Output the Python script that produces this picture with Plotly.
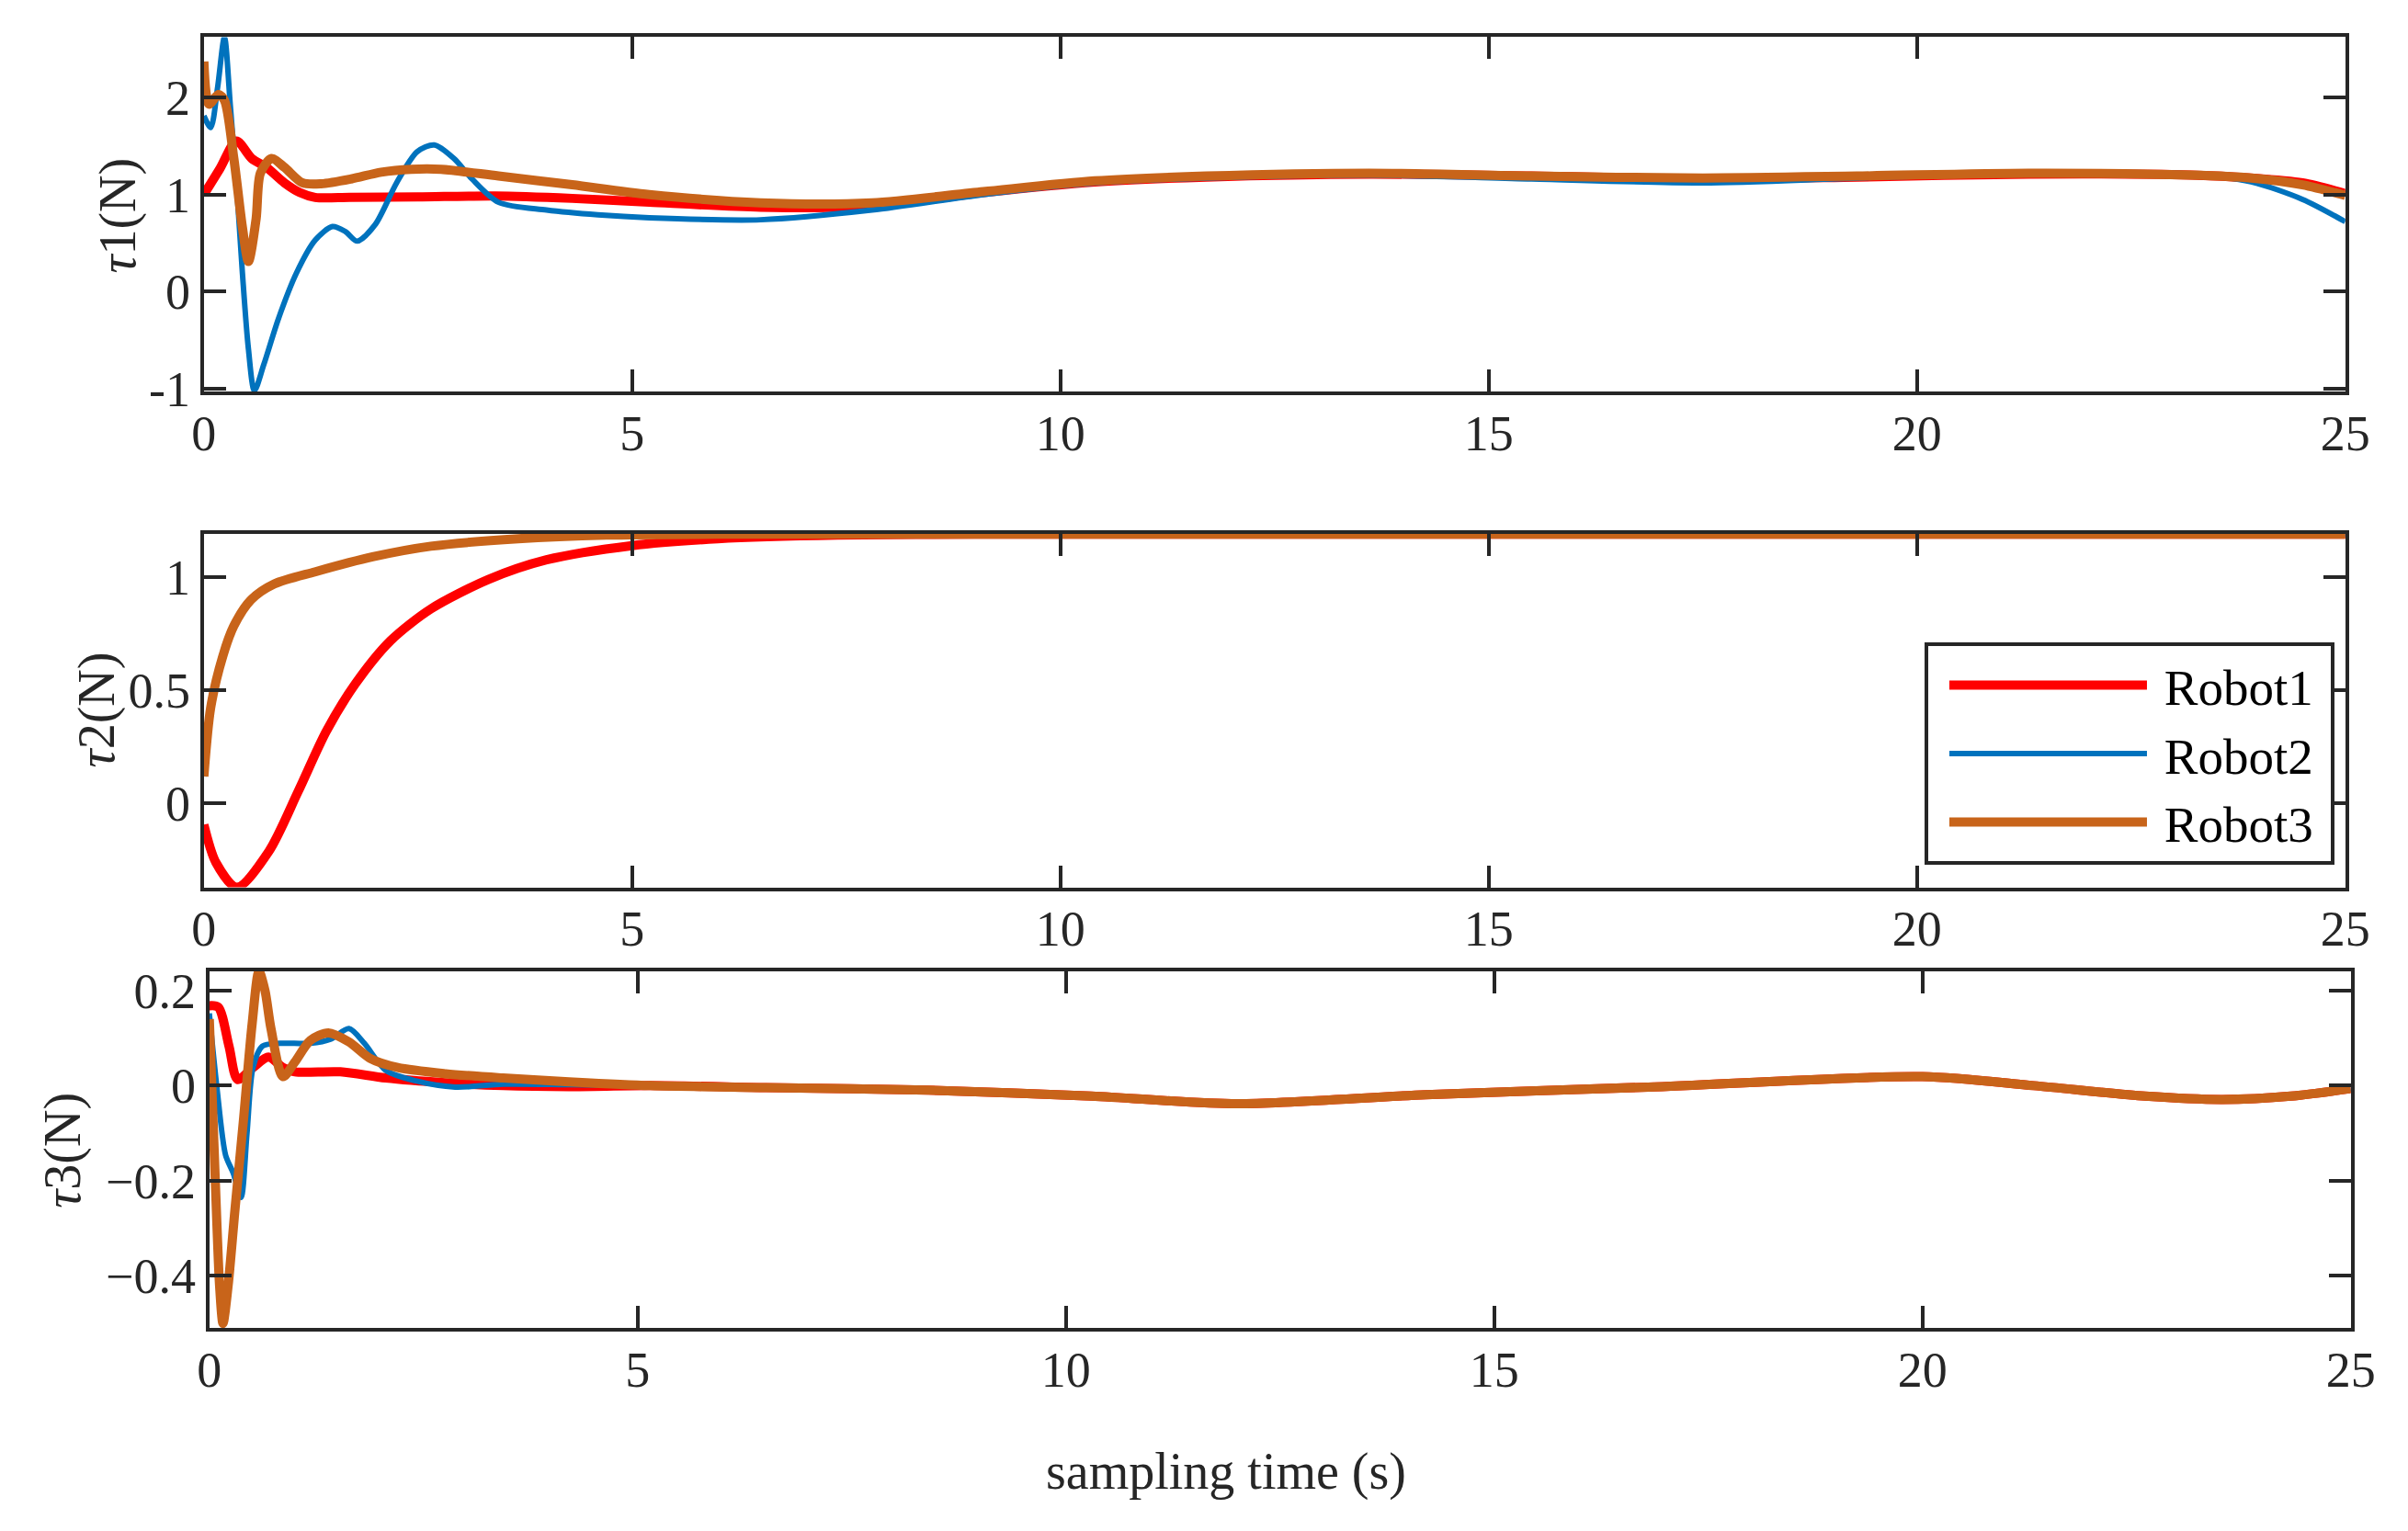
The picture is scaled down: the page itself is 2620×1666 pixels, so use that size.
import plotly.graph_objects as go

# ---------------- data ----------------
# Panel 1: tau1 (N)
t1_r = [0, 0.19, 0.38, 0.56, 0.73, 0.94, 1.12, 1.3, 1.7, 2.5, 3.4, 4.3, 5.2, 6.5, 7.8, 9.1, 10.4, 11.7, 13.6, 15.5, 17.5, 19.3, 21.3, 23.2, 23.9, 24.5, 25]
r1 = [1.0, 1.27, 1.55, 1.37, 1.28, 1.12, 1.02, 0.97, 0.97, 0.975, 0.985, 0.96, 0.92, 0.87, 0.88, 1.02, 1.13, 1.18, 1.21, 1.19, 1.16, 1.18, 1.21, 1.2, 1.17, 1.12, 1.01]

t1_b = [0, 0.08, 0.16, 0.24, 0.31, 0.38, 0.45, 0.52, 0.59, 0.7, 0.87, 1.08, 1.3, 1.5, 1.65, 1.79, 2.0, 2.25, 2.49, 2.69, 2.92, 3.13, 3.44, 4.0, 4.6, 5.2, 6.5, 7.8, 9.1, 10.4, 11.7, 13.6, 15.5, 17.5, 19.3, 21.3, 23.2, 23.9, 24.5, 25]
b1 = [1.81, 1.69, 2.1, 2.62, 1.9, 1.12, 0.19, -0.59, -1.02, -0.75, -0.28, 0.19, 0.53, 0.67, 0.62, 0.52, 0.69, 1.12, 1.44, 1.51, 1.37, 1.16, 0.92, 0.84, 0.79, 0.76, 0.74, 0.84, 1.0, 1.12, 1.17, 1.2, 1.16, 1.12, 1.17, 1.22, 1.21, 1.13, 0.95, 0.72]

t1_o = [0, 0.06, 0.17, 0.24, 0.35, 0.45, 0.52, 0.61, 0.66, 0.79, 0.94, 1.15, 1.37, 1.72, 2.07, 2.42, 2.77, 3.44, 4.3, 5.2, 6.5, 7.8, 9.1, 10.4, 11.7, 13.6, 15.5, 17.5, 19.3, 21.3, 23.2, 23.9, 24.5, 25]
o1 = [2.37, 1.93, 2.03, 1.97, 1.37, 0.66, 0.31, 0.75, 1.22, 1.37, 1.28, 1.12, 1.11, 1.16, 1.23, 1.26, 1.26, 1.19, 1.1, 1.0, 0.915, 0.915, 1.03, 1.14, 1.19, 1.22, 1.19, 1.17, 1.19, 1.22, 1.2, 1.17, 1.1, 0.99]

# Panel 2: tau2 (N)
t2_r = [0, 0.14, 0.385, 0.76, 1.1, 1.43, 1.77, 2.18, 2.65, 3.32, 4.0, 5.0, 6.0, 7.4, 9, 12, 16, 20, 25]
r2 = [-0.093, -0.26, -0.37, -0.21, 0.053, 0.32, 0.53, 0.72, 0.86, 0.99, 1.077, 1.14, 1.17, 1.186, 1.19, 1.19, 1.19, 1.19, 1.19]

t2_b = [0, 0.08, 0.22, 0.35, 0.55, 0.82, 1.3, 1.97, 2.65, 3.67, 4.7, 6, 9, 12, 16, 20, 25]
b2 = [0.12, 0.425, 0.65, 0.785, 0.9, 0.97, 1.024, 1.09, 1.137, 1.17, 1.186, 1.19, 1.19, 1.19, 1.19, 1.19, 1.19]

t2_o = [0, 0.08, 0.22, 0.35, 0.55, 0.82, 1.3, 1.97, 2.65, 3.67, 4.7, 6, 9, 12, 16, 20, 25]
o2 = [0.12, 0.425, 0.65, 0.785, 0.9, 0.97, 1.024, 1.09, 1.137, 1.17, 1.186, 1.19, 1.19, 1.19, 1.19, 1.19, 1.19]

# Panel 3: tau3 (N)
t3_r = [0, 0.105, 0.23, 0.33, 0.51, 0.69, 0.86, 1.0, 1.53, 2.06, 2.76, 3.43, 4.2, 5.15, 6.5, 8.4, 10.3, 12.0, 14.2, 16.8, 20.0, 21.3, 22.6, 23.5, 24.3, 25]
r3 = [0.168, 0.165, 0.083, 0.013, 0.038, 0.06, 0.038, 0.029, 0.029, 0.016, 0.006, 0.0, -0.002, 0.0, -0.004, -0.0095, -0.022, -0.038, -0.019, -0.003, 0.019, 0.0, -0.022, -0.029, -0.022, -0.006]

t3_b = [0, 0.09, 0.19, 0.28, 0.37, 0.44, 0.51, 0.62, 0.83, 1.18, 1.42, 1.63, 1.81, 2.06, 2.41, 2.87, 3.43, 4.2, 5.15, 6.5, 8.4, 10.3, 12.0, 14.2, 16.8, 20.0, 21.3, 22.6, 23.5, 24.3, 25]
b3 = [0.152, -0.006, -0.146, -0.184, -0.235, -0.1, 0.038, 0.083, 0.089, 0.089, 0.098, 0.12, 0.089, 0.032, 0.01, -0.003, 0.003, 0.002, 0.0, -0.004, -0.0095, -0.022, -0.038, -0.019, -0.003, 0.019, 0.0, -0.022, -0.029, -0.022, -0.006]

t3_o = [0, 0.07, 0.12, 0.16, 0.22, 0.3, 0.4, 0.5, 0.58, 0.65, 0.72, 0.86, 1.0, 1.18, 1.39, 1.63, 1.88, 2.2, 2.76, 3.43, 4.2, 5.15, 6.5, 8.4, 10.3, 12.0, 14.2, 16.8, 20.0, 21.3, 22.6, 23.5, 24.3, 25]
o3 = [0.14, -0.2, -0.42, -0.5, -0.42, -0.26, -0.07, 0.13, 0.24, 0.2, 0.12, 0.019, 0.05, 0.095, 0.111, 0.092, 0.057, 0.038, 0.025, 0.016, 0.008, 0.0, -0.004, -0.0095, -0.022, -0.038, -0.019, -0.003, 0.019, 0.0, -0.022, -0.029, -0.022, -0.006]

names = ["Robot1", "Robot2", "Robot3"]
colors = ["#FF0000", "#0072BD", "#C8641A"]
widths = [10, 6, 10]

x_ticks = [0, 5, 10, 15, 20, 25]
y1_ticks = [-1, 0, 1, 2]
y1_text = ["-1", "0", "1", "2"]
y2_ticks = [0, 0.5, 1]
y2_text = ["0", "0.5", "1"]
y3_ticks = [-0.4, -0.2, 0, 0.2]
y3_text = ["\u22120.4", "\u22120.2", "0", "0.2"]

panels = [
    ([t1_r, t1_b, t1_o], [r1, b1, o1]),
    ([t2_r, t2_b, t2_o], [r2, b2, o2]),
    ([t3_r, t3_b, t3_o], [r3, b3, o3]),
]

FONT = "Liberation Serif, Times New Roman, serif"
AX = "#262626"
NB = "\u00a0"

fig = go.Figure()
for p, (ts, vs) in enumerate(panels):
    xa = "x" if p == 0 else f"x{p+1}"
    ya = "y" if p == 0 else f"y{p+1}"
    for k in range(3):
        fig.add_trace(go.Scatter(
            x=ts[k], y=vs[k], mode="lines", name=NB + names[k] + NB,
            line=dict(color=colors[k], width=widths[k], shape="spline", smoothing=0.8),
            xaxis=xa, yaxis=ya, showlegend=(p == 0),
        ))

W, H = 2620, 1666
def xd(a, b):
    return [a / W, b / W]
def yd(top, bot):
    return [1 - bot / H, 1 - top / H]

common_x = dict(range=[0, 25], tickvals=x_ticks, ticks="inside", ticklen=24, tickwidth=4,
                tickcolor=AX, showline=True, linecolor=AX, linewidth=4, mirror="allticks",
                showgrid=False, zeroline=False, tickfont=dict(family=FONT, size=54, color=AX),
                ticklabelstandoff=-5)
common_y = dict(ticks="inside", ticklen=24, tickwidth=4, tickcolor=AX, showline=True,
                linecolor=AX, linewidth=4, mirror="allticks", showgrid=False, zeroline=False,
                tickfont=dict(family=FONT, size=54, color=AX))

fig.update_layout(
    width=W, height=H, margin=dict(l=0, r=0, t=0, b=0),
    paper_bgcolor="white", plot_bgcolor="white",
    xaxis=dict(domain=xd(203, 2570), anchor="y", **common_x),
    yaxis=dict(domain=yd(26, 420), anchor="x", range=[-1.03, 2.62], tickvals=y1_ticks, ticktext=y1_text, **common_y),
    xaxis2=dict(domain=xd(203, 2570), anchor="y2", **common_x),
    yaxis2=dict(domain=yd(578, 971), anchor="x2", range=[-0.37, 1.192], tickvals=y2_ticks, ticktext=y2_text, **common_y),
    xaxis3=dict(domain=xd(209, 2576), anchor="y3", **common_x),
    yaxis3=dict(domain=yd(1064, 1461), anchor="x3", range=[-0.51, 0.241], tickvals=y3_ticks, ticktext=y3_text, **common_y),
    legend=dict(x=2558 / W, xanchor="right", y=1 - 699 / H, yanchor="top",
                bgcolor="white", bordercolor=AX, borderwidth=4,
                font=dict(family=FONT, size=55, color="black"), itemwidth=215,
                indentation=18, tracegroupgap=0),
    showlegend=True,
)

ann = [
    dict(text="<i>\u03c4</i>1(N)", x=108 / W, y=1 - 224 / H, textangle=-90),
    dict(text="<i>\u03c4</i>2(N)", x=85 / W, y=1 - 774 / H, textangle=-90),
    dict(text="<i>\u03c4</i>3(N)", x=47 / W, y=1 - 1263 / H, textangle=-90),
    dict(text="sampling time (s)", x=1333 / W, y=1 - 1621 / H, textangle=0),
]
for a in ann:
    fig.add_annotation(xref="paper", yref="paper", showarrow=False, xanchor="center", yanchor="middle",
                       font=dict(family=FONT, size=56, color=AX), **a)

fig.write_html("out.html")
